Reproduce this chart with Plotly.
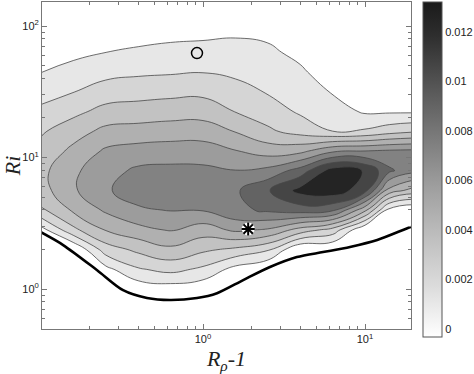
import numpy as np
import plotly.graph_objects as go

# ---- grid coordinates ----
rrho_minus_1 = [0.100, 0.158, 0.251, 0.398, 0.631, 1.00, 1.585, 2.512, 3.981, 6.310, 10.0, 14.13, 19.95]
ri_values = [0.501, 0.708, 1.000, 1.413, 1.995, 2.818, 3.981, 5.623, 7.943, 11.22,
             15.85, 22.39, 31.62, 44.67, 63.10, 89.13, 125.9, 158.5]

# density (x 1e-3) estimated at each grid node; one list per R_rho-1 column, Ri ascending
dens_col_01 = [0, 0, 0, 0, 0, 0.80, 3.85, 4.79, 4.96, 4.43, 3.83, 2.97, 2.12, 1.31, 0.68, 0.27, 0, 0]
dens_col_02 = [0, 0, 0, 0, 0, 3.67, 5.52, 6.47, 6.40, 5.65, 4.76, 3.64, 2.63, 1.76, 1.03, 0.43, 0.12, 0]
dens_col_03 = [0, 0, 0, 0.93, 3.33, 5.41, 6.87, 7.87, 7.53, 6.87, 5.68, 4.44, 3.28, 2.25, 1.33, 0.75, 0.24, 0]
dens_col_04 = [0, 0, 0.47, 2.53, 4.31, 6.23, 7.84, 8.52, 8.24, 7.20, 5.83, 4.60, 3.47, 2.44, 1.52, 0.87, 0.29, 0]
dens_col_05 = [0, 0, 0.67, 3.08, 5.03, 6.80, 8.05, 8.65, 8.33, 7.33, 5.96, 4.76, 3.61, 2.53, 1.68, 0.99, 0.37, 0]
dens_col_06 = [0, 0, 0.40, 2.40, 4.25, 6.00, 8.08, 8.85, 8.29, 7.31, 6.00, 4.77, 3.68, 2.63, 1.76, 1.05, 0.43, 0]
dens_col_07 = [0, 0, 0, 0.85, 3.71, 6.93, 9.00, 9.13, 8.04, 6.73, 5.27, 3.96, 3.15, 2.41, 1.77, 1.17, 0.51, 0]
dens_col_08 = [0, 0, 0, 0, 2.85, 6.51, 9.56, 10.53, 8.39, 6.07, 4.24, 3.33, 2.57, 2.08, 1.59, 1.05, 0.43, 0]
dens_col_09 = [0, 0, 0, 0, 0, 4.80, 10.00, 12.45, 9.92, 6.28, 3.48, 2.48, 2.01, 1.55, 0.99, 0.40, 0.12, 0]
dens_col_10 = [0, 0, 0, 0, 0, 3.47, 9.60, 12.85, 12.67, 7.73, 2.67, 1.96, 1.24, 0.61, 0.23, 0, 0, 0]
dens_col_11 = [0, 0, 0, 0, 0, 0, 5.67, 11.20, 11.93, 8.00, 2.85, 1.16, 0.47, 0.16, 0, 0, 0, 0]
dens_col_12 = [0, 0, 0, 0, 0, 0, 0.80, 6.13, 9.60, 8.19, 3.43, 1.16, 0.47, 0.16, 0, 0, 0, 0]
dens_col_13 = [0, 0, 0, 0, 0, 0, 0, 4.80, 8.37, 8.27, 3.81, 1.16, 0.47, 0.16, 0, 0, 0, 0]

# thick boundary curve
bound_x = [0.100, 0.137, 0.222, 0.321, 0.451, 0.625, 0.918, 1.22, 1.77, 2.59, 3.80, 5.51, 8.08, 11.9, 18.4, 19.5]
bound_y = [2.70, 2.16, 1.39, 0.98, 0.855, 0.825, 0.855, 0.93, 1.17, 1.47, 1.75, 1.91, 2.09, 2.36, 2.91, 2.98]

# markers
circle_pt = (0.918, 62.3)
star_pt = (1.90, 2.86)

# contour levels and colorbar
level_step = 0.04 / 30.0
level_count = 9
band_grays = ['#ffffff', '#e7e7e7', '#d5d5d5', '#c2c2c2', '#b0b0b0', '#9c9c9c', '#828282', '#636363', '#454545', '#242424']
cbar_stops = [0, 0.15, 0.30, 0.45, 0.60, 0.75, 0.90, 1.0]
cbar_grays = ['#ffffff', '#dcdcdc', '#bebebe', '#9e9e9e', '#7a7a7a', '#555555', '#2e2e2e', '#1a1a1a']
cbar_min = -0.00033
cbar_max = 0.01321
cbar_ticks = [0, 0.002, 0.004, 0.006, 0.008, 0.01, 0.012]
cbar_labels = ['0', '0.002', '0.004', '0.006', '0.008', '0.01', '0.012']

cols = [dens_col_01, dens_col_02, dens_col_03, dens_col_04, dens_col_05, dens_col_06, dens_col_07,
        dens_col_08, dens_col_09, dens_col_10, dens_col_11, dens_col_12, dens_col_13]
z = (np.array(cols).T * 1e-3)

band_scale = [[k / level_count, band_grays[k]] for k in range(level_count + 1)]
cbar_scale = [[s, c] for s, c in zip(cbar_stops, cbar_grays)]

fig = go.Figure()
fig.add_trace(go.Contour(
    x=rrho_minus_1, y=ri_values, z=z,
    contours=dict(start=level_step, end=level_step * level_count, size=level_step, coloring='fill'),
    colorscale=band_scale, showscale=False,
    line=dict(color='#484848', width=0.8, smoothing=1.3),
    hoverinfo='skip'))

fig.add_trace(go.Scatter(x=bound_x, y=bound_y, mode='lines',
                         line=dict(color='black', width=2.6, shape='spline', smoothing=0.8),
                         showlegend=False, hoverinfo='skip'))

fig.add_trace(go.Scatter(x=[circle_pt[0]], y=[circle_pt[1]], mode='markers',
                         marker=dict(symbol='circle-open', size=11, color='black', line=dict(width=1.5)),
                         showlegend=False, hoverinfo='skip'))
fig.add_trace(go.Scatter(x=[star_pt[0]], y=[star_pt[1]], mode='markers',
                         marker=dict(symbol='circle', size=13, color='white', line=dict(width=0)),
                         showlegend=False, hoverinfo='skip'))
fig.add_trace(go.Scatter(x=[star_pt[0]], y=[star_pt[1]], mode='markers',
                         marker=dict(symbol='asterisk-open', size=11, color='black', line=dict(width=2, color='black')),
                         showlegend=False, hoverinfo='skip'))

# colorbar carrier
fig.add_trace(go.Scatter(x=[1.0], y=[5.0], mode='markers', showlegend=False, hoverinfo='skip',
                         marker=dict(size=1, opacity=0, color=[0], cmin=cbar_min, cmax=cbar_max,
                                     colorscale=cbar_scale, showscale=True,
                                     colorbar=dict(x=1.0325, xanchor='left', y=1.0, yanchor='top',
                                                   len=335, lenmode='pixels', thickness=19,
                                                   xpad=0, ypad=0, outlinewidth=1, outlinecolor='#555',
                                                   tickvals=cbar_ticks, ticktext=cbar_labels,
                                                   ticks='', tickfont=dict(family='Liberation Sans', size=11, color='#222')))))

minor_x = [0.2, 0.3, 0.4, 0.5, 0.6, 0.7, 0.8, 0.9, 2, 3, 4, 5, 6, 7, 8, 9]
minor_y = [0.6, 0.7, 0.8, 0.9, 2, 3, 4, 5, 6, 7, 8, 9, 20, 30, 40, 50, 60, 70, 80, 90]

axis_common = dict(type='log', showgrid=False, zeroline=False, showline=True, linecolor='#777', linewidth=1,
                   mirror='ticks', ticks='inside', ticklen=5, tickcolor='#777',
                   tickfont=dict(family='Liberation Sans', size=11, color='#222'))

fig.update_xaxes(**axis_common, range=[-0.994, 1.284], tickvals=[1, 10],
                 ticktext=['10<sup>0</sup>', '10<sup>1</sup>'],
                 minor=dict(tickvals=minor_x, ticks='inside', ticklen=3, tickcolor='#777'),
                 title=dict(text='<i>R</i><sub><i>ρ</i></sub><i>-1</i>',
                            font=dict(family='Liberation Serif', size=22, color='#222'), standoff=6))
fig.update_yaxes(**axis_common, range=[-0.304, 2.183], tickvals=[1, 10, 100],
                 ticktext=['10<sup>0</sup>', '10<sup>1</sup>', '10<sup>2</sup>'],
                 minor=dict(tickvals=minor_y, ticks='inside', ticklen=3, tickcolor='#777'),
                 title=dict(text='<i>Ri</i>', font=dict(family='Liberation Serif', size=22, color='#222'), standoff=1))

fig.update_layout(width=474, height=374, margin=dict(l=42, r=63, t=2, b=45),
                  paper_bgcolor='white', plot_bgcolor='white', showlegend=False)

fig.write_html("out.html", config={'displayModeBar': False},
               post_script="document.body.style.margin='0';")
